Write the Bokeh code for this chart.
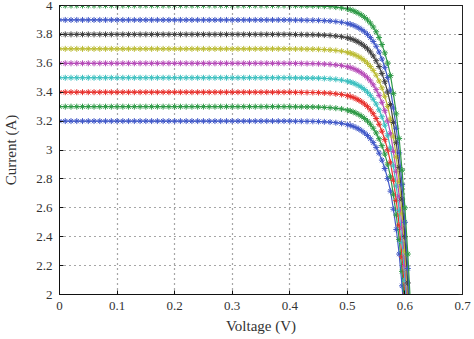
from bokeh.plotting import figure
from bokeh.models import FixedTicker, LinearAxis, Range1d
from bokeh.embed import file_html
from bokeh.resources import INLINE

# ---- data ----
voltage = [0.00, 0.01, 0.02, 0.03, 0.04, 0.05, 0.06, 0.07, 0.08, 0.09,
           0.10, 0.11, 0.12, 0.13, 0.14, 0.15, 0.16, 0.17, 0.18, 0.19,
           0.20, 0.21, 0.22, 0.23, 0.24, 0.25, 0.26, 0.27, 0.28, 0.29,
           0.30, 0.31, 0.32, 0.33, 0.34, 0.35, 0.36, 0.37, 0.38, 0.39,
           0.40, 0.41, 0.42, 0.43, 0.44, 0.45, 0.46, 0.47, 0.48, 0.49,
           0.50, 0.505, 0.51, 0.515, 0.52, 0.525, 0.53, 0.535, 0.54, 0.545,
           0.55, 0.555, 0.56, 0.565, 0.57, 0.575, 0.58, 0.585, 0.59, 0.595,
           0.60, 0.605, 0.61, 0.615]

current_32 = [3.2, 3.2, 3.2, 3.2, 3.2, 3.2, 3.2, 3.2, 3.2, 3.2,
              3.2, 3.2, 3.2, 3.2, 3.2, 3.2, 3.2, 3.2, 3.2, 3.2,
              3.2, 3.2, 3.2, 3.2, 3.2, 3.2, 3.2, 3.2, 3.2, 3.2,
              3.2, 3.2, 3.2, 3.2, 3.2, 3.2, 3.2, 3.2, 3.2, 3.2,
              3.2, 3.199, 3.199, 3.198, 3.198, 3.197, 3.195, 3.193, 3.189, 3.184,
              3.176, 3.171, 3.164, 3.155, 3.145, 3.133, 3.118, 3.100, 3.078, 3.051,
              3.018, 2.978, 2.930, 2.872, 2.802, 2.715, 2.590, 2.450, 2.280, 2.060,
              1.800, 1.480, 1.100, 0.650]

current_33 = [3.3, 3.3, 3.3, 3.3, 3.3, 3.3, 3.3, 3.3, 3.3, 3.3,
              3.3, 3.3, 3.3, 3.3, 3.3, 3.3, 3.3, 3.3, 3.3, 3.3,
              3.3, 3.3, 3.3, 3.3, 3.3, 3.3, 3.3, 3.3, 3.3, 3.3,
              3.3, 3.3, 3.3, 3.3, 3.3, 3.3, 3.3, 3.3, 3.3, 3.3,
              3.3, 3.299, 3.299, 3.298, 3.298, 3.297, 3.295, 3.293, 3.289, 3.284,
              3.276, 3.271, 3.264, 3.255, 3.245, 3.233, 3.218, 3.200, 3.178, 3.151,
              3.118, 3.078, 3.030, 2.972, 2.902, 2.815, 2.690, 2.550, 2.380, 2.160,
              1.900, 1.580, 1.200, 0.750]

current_34 = [3.4, 3.4, 3.4, 3.4, 3.4, 3.4, 3.4, 3.4, 3.4, 3.4,
              3.4, 3.4, 3.4, 3.4, 3.4, 3.4, 3.4, 3.4, 3.4, 3.4,
              3.4, 3.4, 3.4, 3.4, 3.4, 3.4, 3.4, 3.4, 3.4, 3.4,
              3.4, 3.4, 3.4, 3.4, 3.4, 3.4, 3.4, 3.4, 3.4, 3.4,
              3.4, 3.399, 3.399, 3.398, 3.398, 3.397, 3.395, 3.393, 3.389, 3.384,
              3.376, 3.371, 3.364, 3.355, 3.345, 3.333, 3.318, 3.300, 3.278, 3.251,
              3.218, 3.178, 3.130, 3.072, 3.002, 2.915, 2.790, 2.650, 2.480, 2.260,
              2.000, 1.680, 1.300, 0.850]

current_35 = [3.5, 3.5, 3.5, 3.5, 3.5, 3.5, 3.5, 3.5, 3.5, 3.5,
              3.5, 3.5, 3.5, 3.5, 3.5, 3.5, 3.5, 3.5, 3.5, 3.5,
              3.5, 3.5, 3.5, 3.5, 3.5, 3.5, 3.5, 3.5, 3.5, 3.5,
              3.5, 3.5, 3.5, 3.5, 3.5, 3.5, 3.5, 3.5, 3.5, 3.5,
              3.5, 3.499, 3.499, 3.498, 3.498, 3.497, 3.495, 3.493, 3.489, 3.484,
              3.476, 3.471, 3.464, 3.455, 3.445, 3.433, 3.418, 3.400, 3.378, 3.351,
              3.318, 3.278, 3.230, 3.172, 3.102, 3.015, 2.890, 2.750, 2.580, 2.360,
              2.100, 1.780, 1.400, 0.950]

current_36 = [3.6, 3.6, 3.6, 3.6, 3.6, 3.6, 3.6, 3.6, 3.6, 3.6,
              3.6, 3.6, 3.6, 3.6, 3.6, 3.6, 3.6, 3.6, 3.6, 3.6,
              3.6, 3.6, 3.6, 3.6, 3.6, 3.6, 3.6, 3.6, 3.6, 3.6,
              3.6, 3.6, 3.6, 3.6, 3.6, 3.6, 3.6, 3.6, 3.6, 3.6,
              3.6, 3.599, 3.599, 3.598, 3.598, 3.597, 3.595, 3.593, 3.589, 3.584,
              3.576, 3.571, 3.564, 3.555, 3.545, 3.533, 3.518, 3.500, 3.478, 3.451,
              3.418, 3.378, 3.330, 3.272, 3.202, 3.115, 2.990, 2.850, 2.680, 2.460,
              2.200, 1.880, 1.500, 1.050]

current_37 = [3.7, 3.7, 3.7, 3.7, 3.7, 3.7, 3.7, 3.7, 3.7, 3.7,
              3.7, 3.7, 3.7, 3.7, 3.7, 3.7, 3.7, 3.7, 3.7, 3.7,
              3.7, 3.7, 3.7, 3.7, 3.7, 3.7, 3.7, 3.7, 3.7, 3.7,
              3.7, 3.7, 3.7, 3.7, 3.7, 3.7, 3.7, 3.7, 3.7, 3.7,
              3.7, 3.699, 3.699, 3.698, 3.698, 3.697, 3.695, 3.693, 3.689, 3.684,
              3.676, 3.671, 3.664, 3.655, 3.645, 3.633, 3.618, 3.600, 3.578, 3.551,
              3.518, 3.478, 3.430, 3.372, 3.302, 3.215, 3.090, 2.950, 2.780, 2.560,
              2.300, 1.980, 1.600, 1.150]

current_38 = [3.8, 3.8, 3.8, 3.8, 3.8, 3.8, 3.8, 3.8, 3.8, 3.8,
              3.8, 3.8, 3.8, 3.8, 3.8, 3.8, 3.8, 3.8, 3.8, 3.8,
              3.8, 3.8, 3.8, 3.8, 3.8, 3.8, 3.8, 3.8, 3.8, 3.8,
              3.8, 3.8, 3.8, 3.8, 3.8, 3.8, 3.8, 3.8, 3.8, 3.8,
              3.8, 3.799, 3.799, 3.798, 3.798, 3.797, 3.795, 3.793, 3.789, 3.784,
              3.776, 3.771, 3.764, 3.755, 3.745, 3.733, 3.718, 3.700, 3.678, 3.651,
              3.618, 3.578, 3.530, 3.472, 3.402, 3.315, 3.190, 3.050, 2.880, 2.660,
              2.400, 2.080, 1.700, 1.250]

current_39 = [3.9, 3.9, 3.9, 3.9, 3.9, 3.9, 3.9, 3.9, 3.9, 3.9,
              3.9, 3.9, 3.9, 3.9, 3.9, 3.9, 3.9, 3.9, 3.9, 3.9,
              3.9, 3.9, 3.9, 3.9, 3.9, 3.9, 3.9, 3.9, 3.9, 3.9,
              3.9, 3.9, 3.9, 3.9, 3.9, 3.9, 3.9, 3.9, 3.9, 3.9,
              3.9, 3.899, 3.899, 3.898, 3.898, 3.897, 3.895, 3.893, 3.889, 3.884,
              3.876, 3.871, 3.864, 3.855, 3.845, 3.833, 3.818, 3.800, 3.778, 3.751,
              3.718, 3.678, 3.630, 3.572, 3.502, 3.415, 3.290, 3.150, 2.980, 2.760,
              2.500, 2.180, 1.800, 1.350]

current_40 = [4.0, 4.0, 4.0, 4.0, 4.0, 4.0, 4.0, 4.0, 4.0, 4.0,
              4.0, 4.0, 4.0, 4.0, 4.0, 4.0, 4.0, 4.0, 4.0, 4.0,
              4.0, 4.0, 4.0, 4.0, 4.0, 4.0, 4.0, 4.0, 4.0, 4.0,
              4.0, 4.0, 4.0, 4.0, 4.0, 4.0, 4.0, 4.0, 4.0, 4.0,
              4.0, 3.999, 3.999, 3.998, 3.998, 3.997, 3.995, 3.993, 3.989, 3.984,
              3.976, 3.971, 3.964, 3.955, 3.945, 3.933, 3.918, 3.900, 3.878, 3.851,
              3.818, 3.778, 3.730, 3.672, 3.602, 3.515, 3.390, 3.250, 3.080, 2.860,
              2.600, 2.280, 1.900, 1.450]

series = [current_32, current_33, current_34, current_35, current_36,
          current_37, current_38, current_39, current_40]
colors = ["#4058c8", "#2e9a46", "#e8302c", "#3cc0c0", "#b64ab8",
          "#bcbc34", "#404040", "#4058c8", "#2e9a46"]

x_ticks = [0.0, 0.1, 0.2, 0.3, 0.4, 0.5, 0.6, 0.7]
x_tick_labels = ["0", "0.1", "0.2", "0.3", "0.4", "0.5", "0.6", "0.7"]
y_ticks = [2.0, 2.2, 2.4, 2.6, 2.8, 3.0, 3.2, 3.4, 3.6, 3.8, 4.0]
y_tick_labels = ["2", "2.2", "2.4", "2.6", "2.8", "3", "3.2", "3.4", "3.6", "3.8", "4"]

FONT = "Liberation Serif"

p = figure(width=474, height=339, output_backend="svg", toolbar_location=None,
           x_range=Range1d(0, 0.7), y_range=Range1d(2, 4),
           min_border_left=58, min_border_right=12, min_border_top=5,
           min_border_bottom=45)
p.background_fill_color = "white"
p.border_fill_color = "white"
p.outline_line_color = "#222222"
p.outline_line_width = 1

for cur, col in zip(series, colors):
    p.line(voltage, cur, line_color=col, line_width=1.2)
    p.scatter(voltage, cur, marker="asterisk", size=6, line_color=col, line_width=1)

# axes
xt = FixedTicker(ticks=x_ticks)
yt = FixedTicker(ticks=y_ticks)
p.xaxis.ticker = xt
p.yaxis.ticker = yt
p.xaxis.major_label_overrides = {t: s for t, s in zip(x_ticks, x_tick_labels)}
p.yaxis.major_label_overrides = {t: s for t, s in zip(y_ticks, y_tick_labels)}
for ax in (p.xaxis[0], p.yaxis[0]):
    ax.major_tick_in = 4
    ax.major_tick_out = 0
    ax.minor_tick_line_color = None
    ax.axis_line_color = "#111111"
    ax.major_tick_line_color = "#111111"
    ax.major_label_text_font = FONT
    ax.major_label_text_font_size = "13px"
    ax.major_label_text_color = "#333333"
    ax.axis_label_text_font = FONT
    ax.axis_label_text_font_size = "15px"
    ax.axis_label_text_font_style = "normal"
    ax.axis_label_text_color = "#333333"
    ax.major_label_standoff = 7
p.xaxis.axis_label = "Voltage (V)"
p.yaxis.axis_label = "Current (A)"
p.xaxis.axis_label_standoff = 5
p.yaxis.axis_label_standoff = 14

for loc, tk in (("right", yt), ("above", xt)):
    ax = LinearAxis(ticker=tk, major_tick_in=4, major_tick_out=0,
                    minor_tick_line_color=None, major_label_text_font_size="13px",
                    major_label_standoff=0, axis_line_color="#222222",
                    major_tick_line_color="#222222",
                    major_label_overrides={t: "" for t in tk.ticks})
    p.add_layout(ax, loc)

p.xgrid.ticker = xt
p.ygrid.ticker = yt
for g in (p.xgrid[0], p.ygrid[0]):
    g.grid_line_color = "#222222"
    g.grid_line_dash = "1 4"
    g.grid_line_width = 1.2
    g.grid_line_alpha = 0.8

open("out.html", "w").write(file_html(p, INLINE))
